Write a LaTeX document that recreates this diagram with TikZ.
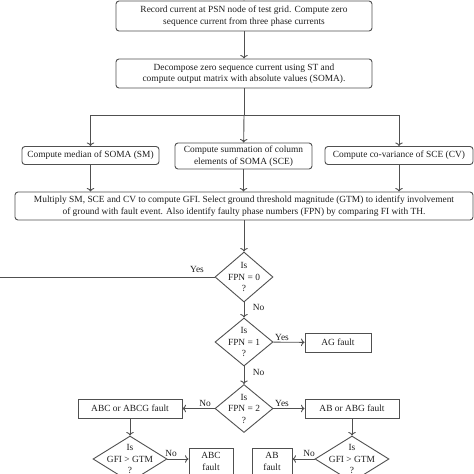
\documentclass[tikz,border=0pt]{standalone}
\usepackage{fontspec}
\setmainfont{Liberation Serif}
\usepackage{tikz}
\usetikzlibrary{arrows.meta, positioning, shapes.geometric}

\definecolor{linegray}{RGB}{80,80,80}
\definecolor{textgray}{RGB}{30,30,30}

\tikzset{
	procbox/.style={draw=linegray, line width=0.9pt, rounded corners=3pt, align=center, inner sep=0pt, text=textgray},
	faultbox/.style={draw=linegray, line width=0.9pt, align=center, inner sep=0pt, text=textgray},
	decide/.style={diamond, draw=linegray, line width=0.9pt, inner sep=0pt},
	flow/.style={draw=linegray, line width=0.9pt, ->},
	answer/.style={text=textgray, inner sep=0pt}
}

\begin{document}
\begin{tikzpicture}[x=1pt, y=-1pt, font=\fontsize{9.4}{11.5}\selectfont]

		\useasboundingbox (0,0) rectangle (474,474);

		% Bloki obliczen
		\node[procbox, minimum width=256, minimum height=30] (rec) at (244,16)
			{Record current at PSN node of test grid. Compute zero\\sequence current from three phase currents};
		\node[procbox, minimum width=256, minimum height=29] (dec) at (244,73.5)
			{Decompose zero sequence current using ST and\\compute output matrix with absolute values (SOMA).};
		\node[procbox, minimum width=137, minimum height=18] (sm) at (90.5,155.5)
			{Compute median of SOMA (SM)};
		\node[procbox, minimum width=137, minimum height=26] (sce) at (243.5,156)
			{Compute summation of column\\elements of SOMA (SCE)};
		\node[procbox, minimum width=148, minimum height=18] (cv) at (399,155.5)
			{Compute co-variance of SCE (CV)};
		\node[procbox, minimum width=458, minimum height=28] (gfi) at (244,206)
			{Multiply SM, SCE and CV to compute GFI. Select ground threshold magnitude (GTM) to identify involvement\\of ground with fault event. Also identify faulty phase numbers (FPN) by comparing FI with TH.};

		% Decyzje
		\node[decide, minimum width=58, minimum height=50,
			label={[align=center, text=textgray]center:Is\\FPN = 0\\?}] (fpn0) at (244,277) {};
		\node[decide, minimum width=58, minimum height=48,
			label={[align=center, text=textgray]center:Is\\FPN = 1\\?}] (fpn1) at (244,342) {};
		\node[decide, minimum width=58, minimum height=48,
			label={[align=center, text=textgray]center:Is\\FPN = 2\\?}] (fpn2) at (244,408.5) {};
		\node[decide, minimum width=74, minimum height=46,
			label={[align=center, text=textgray]center:Is\\GFI > GTM\\?}] (gtmL) at (130,459) {};
		\node[decide, minimum width=74, minimum height=46,
			label={[align=center, text=textgray]center:Is\\GFI > GTM\\?}] (gtmR) at (352,459) {};

		% Rodzaje zwarc
		\node[faultbox, minimum width=66, minimum height=19] (ag) at (338,342.5) {AG fault};
		\node[faultbox, minimum width=104, minimum height=19] (abcg) at (130,408.5) {ABC or ABCG fault};
		\node[faultbox, minimum width=94, minimum height=19] (abg) at (352,408.5) {AB or ABG fault};
		\node[faultbox, minimum width=44, minimum height=27] (abc) at (211,461.5) {ABC\\fault};
		\node[faultbox, minimum width=40, minimum height=27] (ab) at (272,461.5) {AB\\fault};

		% Strzalki
		\coordinate (in) at (244,-12);
		\coordinate (split) at (244,115);
		\coordinate (out) at (-5,277);
		\draw[flow] (in) -- (rec);
		\draw[flow] (rec) -- (dec);
		\draw[draw=linegray, line width=0.9pt] (dec) -- (split);
		\draw[flow] (split) -| (sm.north);
		\draw[flow] (split) -- (sce);
		\draw[flow] (split) -| (cv.north);
		\draw[flow] (sm.south) -- (sm.south |- gfi.north);
		\draw[flow] (sce) -- (sce.south |- gfi.north);
		\draw[flow] (cv.south) -- (cv.south |- gfi.north);
		\draw[flow] (gfi) -- (fpn0);
		\draw[draw=linegray, line width=0.9pt] (fpn0) -- (out);
		\draw[flow] (fpn0) -- (fpn1);
		\draw[flow] (fpn1) -- (ag);
		\draw[flow] (fpn1) -- (fpn2);
		\draw[flow] (fpn2) -- (abcg);
		\draw[flow] (fpn2) -- (abg);
		\draw[flow] (abcg) -- (gtmL);
		\draw[flow] (abg) -- (gtmR);
		\draw[flow] (gtmL) -- (gtmL.east -| abc.west);
		\draw[flow] (gtmR) -- (gtmR.west -| ab.east);

		% Odpowiedzi
		\node[answer] (y0) at (197,269) {Yes};
		\node[answer] (n0) at (258.5,307) {No};
		\node[answer] (y1) at (282,337) {Yes};
		\node[answer] (n1) at (258.5,372) {No};
		\node[answer] (n2) at (205,403) {No};
		\node[answer] (y2) at (282,403) {Yes};
		\node[answer] (n3) at (171,453) {No};
		\node[answer] (n4) at (309,453) {No};

	\end{tikzpicture}
\end{document}
